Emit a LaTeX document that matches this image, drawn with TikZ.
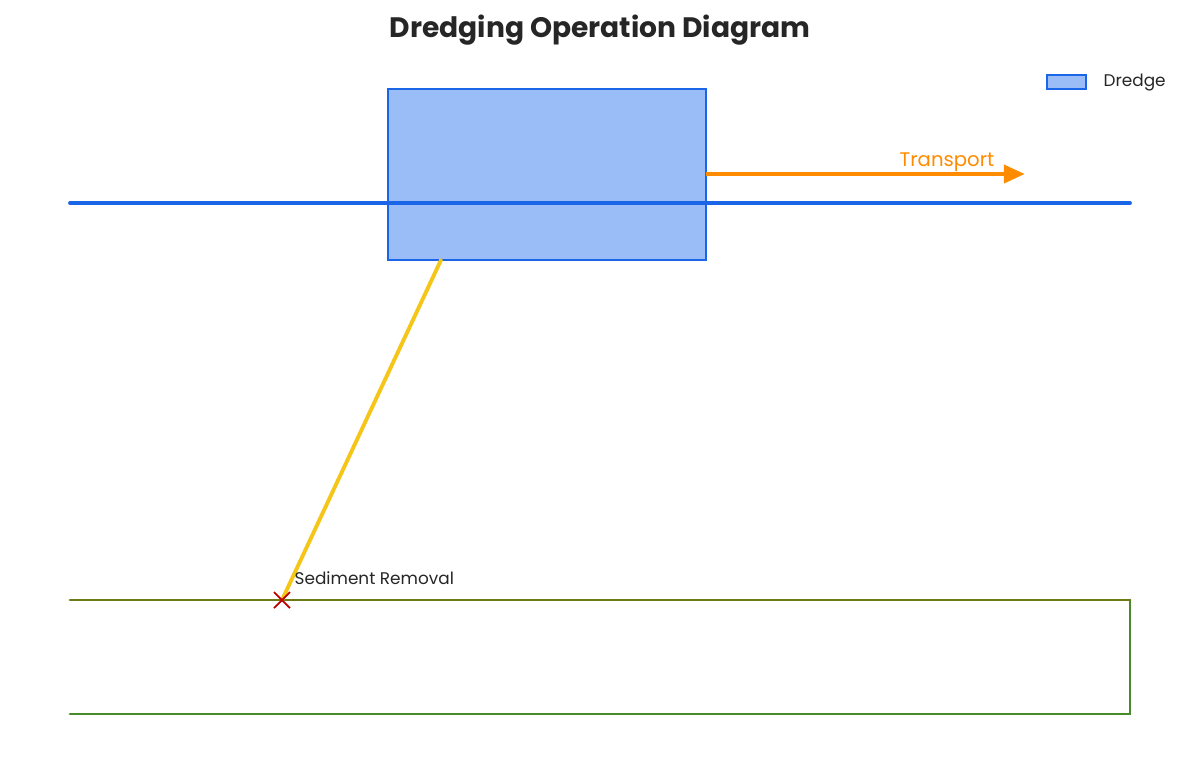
\documentclass[tikz,border=0pt]{standalone}
\usepackage{fontspec}
\setmainfont{Poppins}
\usetikzlibrary{arrows.meta}
\definecolor{dredgeblue}{HTML}{1A66E6}
\definecolor{dredgefill}{HTML}{9BBDF7}
\definecolor{transport}{HTML}{FF8C00}
\definecolor{pipe}{HTML}{F5C518}
\definecolor{seabed}{HTML}{4A8A2A}
\definecolor{seatop}{HTML}{6E7A14}
\tikzset{
  dredge/.style={draw=dredgeblue, fill=dredgefill, line width=0.6pt},
  water/.style={draw=dredgeblue, line width=1.1pt, line cap=round},
  label/.style={font=\fontsize{4.8}{6}\selectfont, inner sep=0pt}
}
\begin{document}
\begin{tikzpicture}[x=0.01cm, y=-0.01cm]
\useasboundingbox (0,0) rectangle (1200,763);
\node[font=\fontsize{8}{10}\selectfont\bfseries, text=black!85] (title) at (600,30) {Dredging Operation Diagram};
% legend
\draw[dredge] (1047,75) rectangle (1086,89);
\node[label, anchor=west, text=black!85] (legend) at (1103,83) {Dredge};
% dredge and water
\draw[dredge] (388,89) rectangle (706,260);
\coordinate (wl) at (70,203);
\coordinate (wr) at (1130,203);
\draw[water] (wl) -- (wr);
\coordinate (ts) at (706,174);
\coordinate (te) at (1025,174);
\draw[transport, line width=1.4pt, -{Triangle[length=6pt,width=5pt]}] (ts) -- (te);
\node[label, text=transport, font=\fontsize{5.6}{7}\selectfont] (trans) at (947,162) {Transport};
% seabed
\coordinate (a) at (70,600);
\coordinate (b) at (1130,600);
\coordinate (c) at (1130,714);
\coordinate (d) at (70,714);
\draw[seabed, line width=0.8pt, line cap=round] (b) -- (c) -- (d);
\draw[seatop, line width=0.8pt, line cap=round] (a) -- (b);
% pipe
\coordinate (p1) at (441,260);
\coordinate (p2) at (282,600);
\draw[pipe, line width=1.1pt, line cap=round] (p1) -- (p2);
\draw[red!75!black, line width=0.5pt] (274,592) -- (290,608) (274,608) -- (290,592);
\node[label, anchor=west, text=black!85] (sed) at (294,578) {Sediment Removal};
\end{tikzpicture}
\end{document}
